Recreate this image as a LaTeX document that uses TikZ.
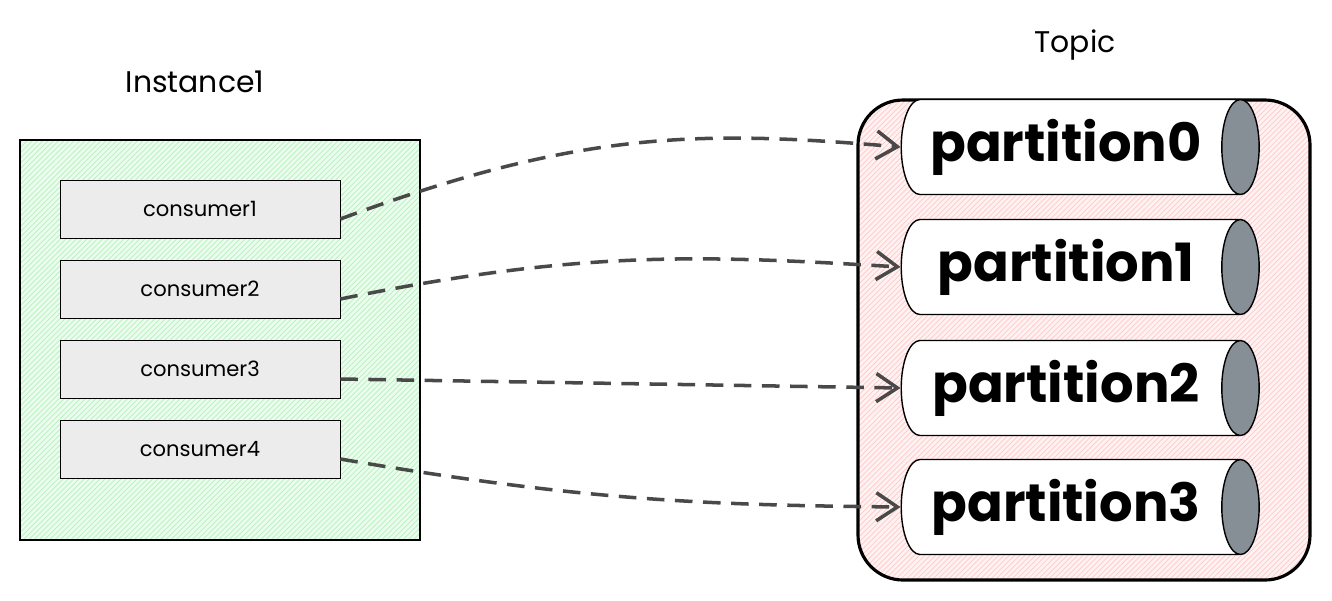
\documentclass[tikz,border=0pt]{standalone}
\usepackage{fontspec}
\setmainfont{Poppins}
\usepackage{xcolor}
\definecolor{groupgreen}{RGB}{178,242,187}
\definecolor{topicred}{RGB}{255,201,201}
\definecolor{capgray}{RGB}{134,142,150}
\definecolor{linegray}{RGB}{73,73,73}
\usetikzlibrary{shapes.geometric,arrows.meta,positioning,patterns}

\begin{document}
\begin{tikzpicture}[x=0.02cm, y=-0.02cm,
    groupbox/.style={draw=black, thick, preaction={fill=groupgreen!25}, preaction={pattern=north east lines, pattern color=groupgreen}},
    topicbox/.style={draw=black, line width=1.8pt, rounded corners=0.9cm, preaction={fill=topicred!25}, preaction={pattern=north east lines, pattern color=topicred}},
    consumerbox/.style={rectangle, draw=black, fill=gray!15, minimum width=5.6cm, minimum height=1.16cm, font=\fontsize{12}{14}\selectfont},
    partbox/.style={cylinder, draw=black, thick, cylinder uses custom fill, cylinder body fill=white, cylinder end fill=capgray, shape aspect=0.55, minimum width=1.9cm, minimum height=7.16cm, font=\fontsize{30}{34}\selectfont\bfseries},
    link/.style={draw=linegray, line width=2pt, dash pattern=on 10pt off 6pt, -{Straight Barb[length=12pt, width=16pt]}}]
    \useasboundingbox (0,0) rectangle (1332,600);

    % Instance
    \node at (195,82) {\fontsize{17}{20}\selectfont Instance1};
    \path [groupbox] (20,140) rectangle (420,540);
    \node [consumerbox] (c1) at (200,209) {consumer1};
    \node [consumerbox] (c2) at (200,289) {consumer2};
    \node [consumerbox] (c3) at (200,369) {consumer3};
    \node [consumerbox] (c4) at (200,449) {consumer4};

    % Topic
    \node at (1075,45) {\fontsize{17}{20}\selectfont Topic};
    \path [topicbox] (858,100) rectangle (1310,580);
    \node [partbox] (p0) at (1066,147) {partition0};
    \node [partbox] (p1) at (1066,267) {partition1};
    \node [partbox] (p2) at (1066,388) {partition2};
    \node [partbox] (p3) at (1066,507) {partition3};

    % Connections
    \path [link] (c1.east) ++(0,10) .. controls (580,130) and (700,130) .. (p0.west);
    \path [link] (c2.east) ++(0,10) .. controls (580,250) and (700,255) .. (p1.west);
    \path [link] (c3.east) ++(0,10) -- (p2.west);
    \path [link] (c4.east) ++(0,10) .. controls (580,500) and (700,505) .. (p3.west);
\end{tikzpicture}
\end{document}
